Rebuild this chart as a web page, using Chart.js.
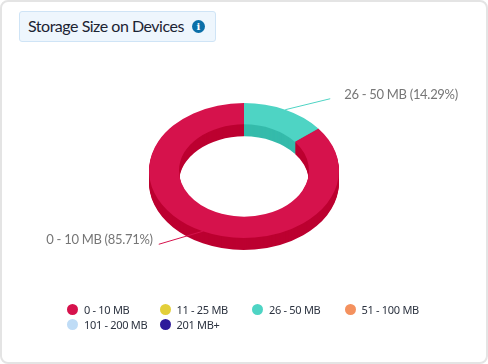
<!DOCTYPE html>
<html lang="en">
<head>
<meta charset="UTF-8">
<title>Storage Size on Devices</title>
<script src="https://cdn.jsdelivr.net/npm/chart.js"></script>
<style>
    html, body { margin: 0; padding: 0; background: #fff; }
    .card {
        position: relative;
        width: 488px;
        height: 364px;
        box-sizing: border-box;
        border: 2px solid #e4e4e4;
        border-radius: 8px;
        overflow: hidden;
        background: #fff;
    }
    canvas { position: absolute; left: -2px; top: -2px; }
    .title {
        position: absolute;
        left: 17px;
        top: 9px;
        width: 197px;
        height: 31px;
        box-sizing: border-box;
        background: #eef6fd;
        border: 1px solid #cfe4f6;
        border-radius: 3px;
        font: 16px/28px Lato, sans-serif;
        letter-spacing: -0.48px;
        color: #1c2433;
        padding-left: 8px;
        white-space: nowrap;
    }
    .info {
        position: absolute;
        left: 172px;
        top: 8px;
        width: 13px;
        height: 13px;
        border-radius: 50%;
        background: #0b6fa8;
        color: #fff;
        font: bold 10px/13px "DejaVu Serif", serif;
        letter-spacing: 0;
        text-align: center;
    }
    .legend {
        position: absolute;
        left: 65px;
        top: 300px;
        display: grid;
        grid-template-columns: repeat(4, 92.5px);
        grid-auto-rows: 15px;
        font: 11px/15px "Noto Sans", sans-serif;
        letter-spacing: -0.3px;
        color: #2c3340;
    }
    .legend div { white-space: nowrap; display: flex; align-items: center; }
    .legend i { width: 11px; height: 11px; border-radius: 50%; margin-right: 6px; flex: none; margin-left: 0; }
</style>
</head>
<body>
<div class="card">
    <canvas id="myChart" width="488" height="364"></canvas>
    <div class="title">Storage Size on Devices<span class="info">i</span></div>
    <div class="legend" id="legend"></div>
</div>
<script>
const categories = ['0 - 10 MB', '11 - 25 MB', '26 - 50 MB', '51 - 100 MB', '101 - 200 MB', '201 MB+'];
const shares = [85.71, 0, 14.29, 0, 0, 0];
const topColors = ['#d6124c', '#e3cf3a', '#4ed4c4', '#f4915e', '#bfdcf6', '#2e1a9a'];
const wallColors = ['#bc0030', '#c9b525', '#35bbab', '#d97a48', '#a5c3dd', '#1d0f78'];

const squash = 0.71;   // vertical squash of the ring
const depth = 12;      // height of the ring side

// Draws the ring side and tilts the ring
const tiltPlugin = {
    id: 'tilt',
    beforeDatasetsDraw(chart) {
        const ctx = chart.ctx;
        const arcs = chart.getDatasetMeta(0).data;
        const cy = arcs[0].y;

        for (let d = depth; d >= 1; d--) {
            ctx.save();
            ctx.translate(0, cy + d);
            ctx.scale(1, squash);
            ctx.translate(0, -cy);
            arcs.forEach((arc, i) => {
                if (!shares[i]) return;
                const saved = arc.options;
                arc.options = Object.assign(Object.create(saved), { backgroundColor: wallColors[i] });
                arc.draw(ctx);
                arc.options = saved;
            });
            ctx.restore();
        }

        ctx.save();
        ctx.translate(0, cy);
        ctx.scale(1, squash);
        ctx.translate(0, -cy);
    },
    afterDatasetsDraw(chart) {
        chart.ctx.restore();
    }
};

// Leader lines and slice labels
const labelPlugin = {
    id: 'sliceLabels',
    afterDraw(chart) {
        const ctx = chart.ctx;
        chart.getDatasetMeta(0).data.forEach((arc, i) => {
            if (!shares[i]) return;
            const mid = (arc.startAngle + arc.endAngle) / 2;
            const x = arc.x + arc.outerRadius * Math.cos(mid);
            const y = arc.y + arc.outerRadius * squash * Math.sin(mid);
            const right = Math.cos(mid) > 0;
            const ex = x + (right ? 45 : -44);
            const ey = y + (Math.sin(mid) < 0 ? -11 : 13);

            ctx.save();
            ctx.strokeStyle = topColors[i];
            ctx.lineWidth = 1;
            ctx.beginPath();
            ctx.moveTo(x, y);
            ctx.lineTo(ex, ey);
            ctx.stroke();

            ctx.fillStyle = '#767676';
            ctx.font = '13px Lato, sans-serif';
            ctx.letterSpacing = '-0.3px';
            ctx.textBaseline = 'middle';
            ctx.textAlign = right ? 'left' : 'right';
            ctx.fillText(`${categories[i]} (${shares[i].toFixed(2)}%)`, ex + (right ? 14 : -6), ey - 4);
            ctx.restore();
        });
    }
};

const total = shares.reduce((a, b) => a + b, 0);

new Chart(document.getElementById('myChart'), {
    type: 'doughnut',
    data: {
        labels: categories,
        datasets: [{
            data: shares,
            backgroundColor: topColors,
            borderWidth: 0,
            clip: false
        }]
    },
    plugins: [tiltPlugin, labelPlugin],
    options: {
        responsive: false,
        animation: false,
        cutout: '68.4%',
        rotation: shares[2] / total * 360,
        layout: { padding: { left: 149, right: 149, top: 75.5, bottom: 98.5 } },
        plugins: {
            legend: { display: false },
            tooltip: { enabled: false }
        }
    }
});

// Legend as a fixed grid
const legend = document.getElementById('legend');
categories.forEach((name, i) => {
    const item = document.createElement('div');
    const dot = document.createElement('i');
    dot.style.background = topColors[i];
    item.appendChild(dot);
    item.appendChild(document.createTextNode(name));
    legend.appendChild(item);
});
</script>
</body>
</html>
